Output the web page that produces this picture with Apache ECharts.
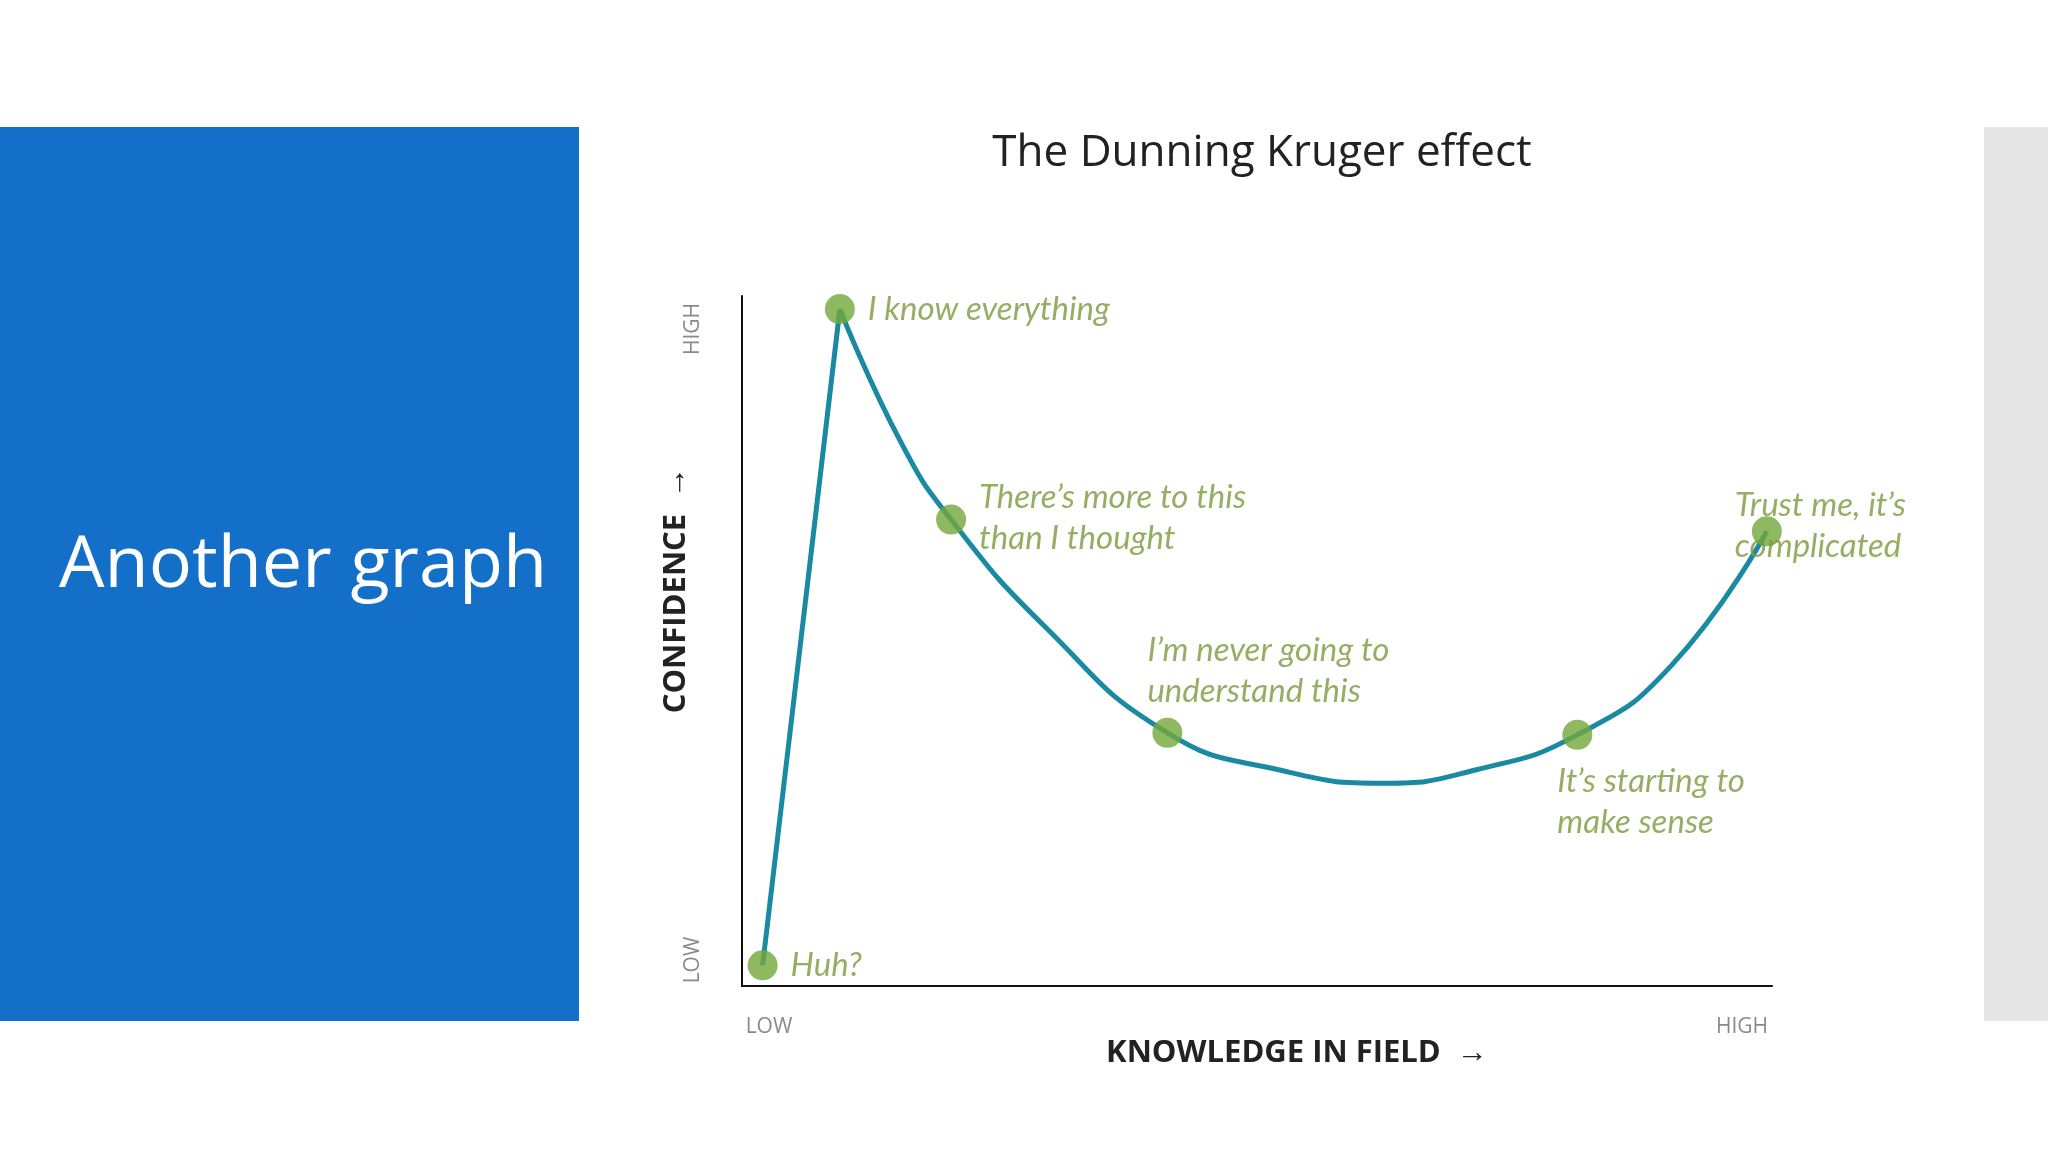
<!DOCTYPE html>
<html>
<head>
<meta charset="UTF-8">
<script src="https://cdn.jsdelivr.net/npm/echarts@6/dist/echarts.min.js"></script>
<style>
  html, body { margin: 0; padding: 0; background: #fff; }
  #chart { width: 2048px; height: 1152px; }
</style>
</head>
<body>
<div id="chart"></div>
<script>
// curve through the phases (knowledge 0-100, confidence 0-100)
var curveX = [2.0, 9.5, 15.5, 20.3, 29.4, 41.3, 52.2, 62.4, 71.2, 81.1, 90.2, 99.5];
var curveY = [3.0, 98.1, 78.6, 67.6, 52.1, 36.7, 31.3, 29.4, 31.3, 36.4, 46.4, 65.9];
// labelled points
var stageNames = ["Huh?", "I know everything", "There’s more to this\nthan I thought",
  "I’m never going to\nunderstand this", "It’s starting to\nmake sense", "Trust me, it’s\ncomplicated"];
var stageX = [2.0, 9.5, 20.3, 41.3, 81.1, 99.5];
var stageY = [3.0, 98.1, 67.6, 36.7, 36.4, 65.9];

var labelPos = [
  { position: "right", offset: [8, 0] },
  { position: "right", offset: [8, 0] },
  { position: "right", offset: [8, -2] },
  { position: "right", offset: [-40, -62] },
  { position: "right", offset: [-40, 67] },
  { position: "left", offset: [-12, -5] }
];

var chart = echarts.init(document.getElementById("chart"));

// the straight rise then the smooth dip
var riseData = [[curveX[0], curveY[0]], [curveX[1], curveY[1]]];
var dipData = [];
for (var i = 1; i < curveX.length; i++) dipData.push([curveX[i], curveY[i]]);

var pointData = [];
for (var j = 0; j < stageNames.length; j++) {
  pointData.push({
    value: [stageX[j], stageY[j]],
    name: stageNames[j],
    label: labelPos[j]
  });
}

var small = { fill: "#8a8a8a", font: "500 21px 'Open Sans', sans-serif", letterSpacing: 2 };

chart.setOption({
  animation: false,
  grid: { left: 742, top: 296, width: 1030, height: 690 },
  xAxis: {
    type: "value", min: 0, max: 100,
    axisLine: { show: true, lineStyle: { color: "#111", width: 2 } },
    axisTick: { show: false }, axisLabel: { show: false }, splitLine: { show: false }
  },
  yAxis: {
    type: "value", min: 0, max: 100,
    axisLine: { show: true, lineStyle: { color: "#111", width: 2 } },
    axisTick: { show: false }, axisLabel: { show: false }, splitLine: { show: false }
  },
  series: [
    {
      type: "line", data: riseData, symbol: "none",
      lineStyle: { color: "#1a8aa3", width: 5 }
    },
    {
      type: "line", data: dipData, symbol: "none", smooth: 0.5,
      lineStyle: { color: "#1a8aa3", width: 5 }
    },
    {
      type: "scatter", data: pointData, symbolSize: 30,
      itemStyle: { color: "#72a83a" },
      label: {
        show: true, formatter: "{b}", color: "#7a9a3c",
        fontStyle: "italic", fontSize: 33, lineHeight: 41,
        fontFamily: "Lato, 'Open Sans', sans-serif", align: "left"
      },
      z: 5
    }
  ],
  graphic: [
    { type: "rect", shape: { x: 0, y: 127, width: 579, height: 894 }, style: { fill: "#136fc8" }, z: -10 },
    { type: "rect", shape: { x: 1984, y: 127, width: 64, height: 894 }, style: { fill: "#e6e6e6" }, z: -10 },
    { type: "text", left: 59, top: 530,
      style: { text: "Another graph", fill: "#fff", font: "72px 'Open Sans', sans-serif", letterSpacing: -2 } },
    { type: "text", x: 1262, y: 153,
      style: { text: "The Dunning Kruger effect", fill: "#222", font: "44px 'Open Sans', sans-serif", align: "center", verticalAlign: "middle" } },
    { type: "text", x: 1297, y: 1053,
      style: { text: "KNOWLEDGE IN FIELD  →", fill: "#222", font: "bold 31px 'Open Sans', sans-serif", letterSpacing: 4, align: "center", verticalAlign: "middle" } },
    { type: "text", x: 676, y: 590, rotation: Math.PI / 2,
      style: { text: "CONFIDENCE  →", fill: "#222", font: "bold 31px 'Open Sans', sans-serif", letterSpacing: 4, align: "center", verticalAlign: "middle" } },
    { type: "text", x: 769, y: 1027, style: Object.assign({ text: "LOW", align: "center", verticalAlign: "middle" }, small) },
    { type: "text", x: 1742, y: 1027, style: Object.assign({ text: "HIGH", align: "center", verticalAlign: "middle" }, small) },
    { type: "text", x: 693, y: 329, rotation: Math.PI / 2, style: Object.assign({ text: "HIGH", align: "center", verticalAlign: "middle" }, small) },
    { type: "text", x: 693, y: 960, rotation: Math.PI / 2, style: Object.assign({ text: "LOW", align: "center", verticalAlign: "middle" }, small) }
  ]
});
</script>
</body>
</html>
